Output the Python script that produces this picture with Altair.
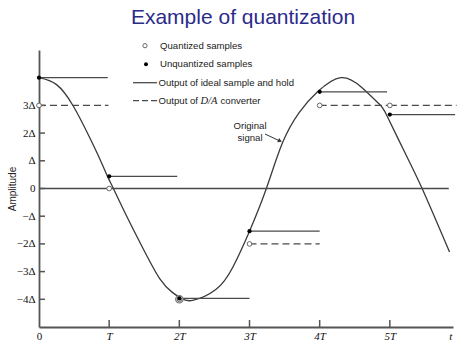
import altair as alt
import pandas as pd

# ---------------- data ----------------
title_text = "Example of quantization"
y_axis_title = "Amplitude"

curve_t = [0.00, 0.25, 0.49, 0.72, 0.87, 0.98, 1.06, 1.25, 1.49, 1.72, 1.90, 2.03, 2.19,
           2.52, 2.76, 3.00, 3.24, 3.47, 3.71, 3.97, 4.30, 4.60, 4.84, 4.95, 5.20, 5.46, 5.85]
curve_a = [4.00, 3.75, 2.97, 1.85, 1.05, 0.42, 0.00, -1.00, -2.20, -3.25, -3.75, -3.97, -4.04,
           -3.65, -2.85, -1.54, 0.00, 1.65, 2.75, 3.49, 4.00, 3.65, 3.07, 2.67, 1.37, 0.00, -2.29]

sample_t = [0, 1, 2, 3, 4, 5]
unquantized = [4.00, 0.44, -3.97, -1.54, 3.49, 2.67]
quantized = [3, 0, -4, -2, 3, 3]
hold_end = [0.98, 1.97, 3.00, 4.00, 4.96, 5.93]

dac_start = [0, 3, 4, 5]
dac_end = [0.99, 4.00, 5.00, 5.95]
dac_level = [3, -2, 3, 3]

zero_line_end = [5.84]

y_tick_values = [3, 2, 1, 0, -1, -2, -3, -4]
y_tick_labels = ["3Δ", "2Δ", "Δ", "0", "−Δ", "−2Δ", "−3Δ", "−4Δ"]
x_tick_values = [0, 1, 2, 3, 4, 5, 5.86]
x_tick_labels = ["0", "T", "2T", "3T", "4T", "5T", "t"]
x_tick_marks = [1, 2, 3, 4, 5]

legend_labels = ["Quantized samples", "Unquantized samples",
                 "Output of ideal sample and hold", "Output of", "D/A", "converter"]
annotation_lines = ["Original", "signal"]

# ---------------- helpers ----------------
def label_expr(values, labels):
    expr = "''"
    for v, l in reversed(list(zip(values, labels))):
        expr = f"datum.value == {v} ? '{l}' : ({expr})"
    return expr

W, H = 414, 277
xs = alt.Scale(domain=[0, 5.9], nice=False, zero=False)
ys = alt.Scale(domain=[-5, 5], nice=False, zero=False)

LINE = "#4a4a4a"
SANS = "Liberation Sans"
SERIF = "Liberation Serif"

x_axis = alt.Axis(values=x_tick_values, labelExpr=label_expr(x_tick_values, x_tick_labels),
                  title=None, tickSize=0, labelPadding=3, labelFont=SERIF, labelFontSize=11,
                  labelColor="#111",
                  labelFontStyle={"condition": {"test": "datum.value == 0", "value": "normal"},
                                  "value": "italic"},
                  domainColor="#555", domainWidth=1.8, grid=False, labelFlush=False)
y_axis = alt.Axis(values=y_tick_values, labelExpr=label_expr(y_tick_values, y_tick_labels),
                  title=y_axis_title, tickSize=0, labelPadding=4, labelFont=SERIF,
                  labelFontSize=11, labelColor="#111", domainColor="#555", domainWidth=1.8,
                  grid=False, titleFont=SANS, titleFontSize=10, titleFontWeight="normal",
                  titleColor="#222", titleAngle=-90, titleX=-27, titleY=H / 2,
                  titleAlign="center", titleBaseline="middle")


def X(field):
    return alt.X(field, scale=xs, axis=x_axis, title=None)


def Y(field):
    return alt.Y(field, scale=ys, axis=y_axis, title=y_axis_title)


curve_df = pd.DataFrame({"t": curve_t, "a": curve_a})
samples_df = pd.DataFrame({"t": sample_t, "unq": unquantized, "q": quantized, "end": hold_end})
dac_df = pd.DataFrame({"t": dac_start, "end": dac_end, "q": dac_level})
zero_df = pd.DataFrame({"t": [0], "end": zero_line_end, "a": [0]})
ytick_df = pd.DataFrame({"v": y_tick_values})
xtick_df = pd.DataFrame({"v": x_tick_marks})
one = pd.DataFrame({"k": [0]})

curve = alt.Chart(curve_df).mark_line(interpolate="natural", color="#3a3a3a", strokeWidth=1.3).encode(
    x=X("t:Q"), y=Y("a:Q"))

zero_line = alt.Chart(zero_df).mark_rule(color=LINE, strokeWidth=1.3).encode(
    x=X("t:Q"), x2="end:Q", y=Y("a:Q"))

hold = alt.Chart(samples_df).mark_rule(color=LINE, strokeWidth=1.3).encode(
    x=X("t:Q"), x2="end:Q", y=Y("unq:Q"))

dac = alt.Chart(dac_df).mark_rule(color=LINE, strokeWidth=1.3, strokeDash=[7, 4]).encode(
    x=X("t:Q"), x2="end:Q", y=Y("q:Q"))

yticks = alt.Chart(ytick_df).mark_rule(color="#555", strokeWidth=1.5).encode(
    y=Y("v:Q"), x=alt.value(0), x2=alt.value(6))

xticks = alt.Chart(xtick_df).mark_rule(color="#555", strokeWidth=1.5).encode(
    x=X("v:Q"), y=alt.value(H), y2=alt.value(H - 7))

# samples whose quantized and unquantized values coincide get a wider ring
ring_pts = alt.Chart(samples_df).transform_filter(
    "abs(datum.q - datum.unq) < 0.1"
).mark_point(shape="circle", filled=True, fill="white", stroke="#777", strokeWidth=1.2,
             size=55, opacity=1).encode(x=X("t:Q"), y=Y("q:Q"))

open_pts = alt.Chart(samples_df).mark_point(shape="circle", filled=True, fill="white",
                                            stroke="#666", strokeWidth=1, size=22, opacity=1).encode(
    x=X("t:Q"), y=Y("q:Q"))

dots = alt.Chart(samples_df).mark_circle(color="black", size=18, opacity=1).encode(
    x=X("t:Q"), y=Y("unq:Q"))

# ---------------- title, legend, annotation ----------------
title = alt.Chart(one).mark_text(text=title_text, font=SANS, fontSize=21, color="#2B2B8A",
                                 align="center", baseline="alphabetic").encode(
    x=alt.value(204), y=alt.value(-26))

rows_y = [-4.3, 14.3, 32.7, 50.7]
leg_open = alt.Chart(one).mark_point(shape="circle", filled=True, fill="white", stroke="#666",
                                     strokeWidth=1, size=18, opacity=1).encode(
    x=alt.value(106), y=alt.value(rows_y[0]))
leg_dot = alt.Chart(one).mark_circle(color="black", size=16, opacity=1).encode(
    x=alt.value(107), y=alt.value(rows_y[1]))
leg_line = alt.Chart(one).mark_rule(color=LINE, strokeWidth=1.3).encode(
    x=alt.value(94), x2=alt.value(118), y=alt.value(rows_y[2]))
leg_dash = alt.Chart(one).mark_rule(color=LINE, strokeWidth=1.3, strokeDash=[6, 3]).encode(
    x=alt.value(94), x2=alt.value(118), y=alt.value(rows_y[3]))


def ltext(s, x, y, **kw):
    params = dict(font=SANS, fontSize=9.6, color="#222", align="left", baseline="middle")
    params.update(kw)
    return alt.Chart(one).mark_text(text=s, **params).encode(x=alt.value(x), y=alt.value(y))


leg_texts = [
    ltext(legend_labels[0], 121, rows_y[0]),
    ltext(legend_labels[1], 121, rows_y[1]),
    ltext(legend_labels[2], 119.5, rows_y[2]),
    ltext(legend_labels[3], 119.5, rows_y[3]),
    ltext(legend_labels[4], 161.5, rows_y[3] + 0.5, font=SERIF, fontStyle="italic", fontSize=10.5),
    ltext(legend_labels[5], 181.5, rows_y[3]),
]

ann_texts = [
    ltext(annotation_lines[0], 211, 76, align="center"),
    ltext(annotation_lines[1], 211, 88, align="center"),
]
arrow_line = alt.Chart(one).mark_rule(color="#333", strokeWidth=1).encode(
    x=alt.value(226), y=alt.value(84), x2=alt.value(240), y2=alt.value(90.6))
arrow_head = alt.Chart(one).mark_point(shape="triangle-right", filled=True, color="#333",
                                       size=22, angle=25, opacity=1).encode(
    x=alt.value(241), y=alt.value(91))

chart = alt.layer(
    curve, zero_line, hold, dac, yticks, xticks, ring_pts, open_pts, dots,
    title, leg_open, leg_dot, leg_line, leg_dash, *leg_texts, *ann_texts, arrow_line, arrow_head
).properties(
    width=W, height=H,
    padding={"left": 39, "top": 50, "right": 21, "bottom": 28},
    autosize=alt.AutoSizeParams(type="none"),
    background="white",
).configure_view(stroke=None)

chart.save("out.html", embed_options={"renderer": "svg", "actions": False})
